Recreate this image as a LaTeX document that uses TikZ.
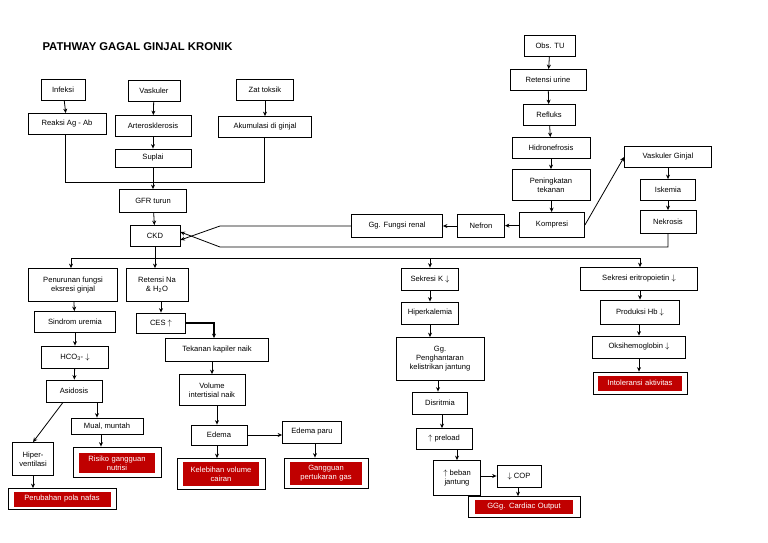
\documentclass[tikz,border=0pt]{standalone}
\usepackage{fontspec}
\setmainfont{Liberation Sans}
\usetikzlibrary{arrows.meta}
\definecolor{dred}{RGB}{192,0,0}
\begin{document}
\begin{tikzpicture}[x=1pt,y=-1pt,
  box/.style={draw,thick,fill=white,inner sep=1pt,align=center,font=\fontsize{7.6}{9}\selectfont,minimum height=21pt},
  outer/.style={draw,thick,inner sep=0pt},
  redt/.style={fill=dred,text=white,inner sep=1pt,align=center,font=\fontsize{7.6}{9}\selectfont},
  arr/.style={-{Stealth[length=4.5pt,width=4pt]},thick},
  ln/.style={thick}]
\useasboundingbox (0,0) rectangle (768,543);
\node[font=\bfseries\fontsize{11.3}{13}\selectfont,anchor=west] (title) at (39,47) {PATHWAY GAGAL GINJAL KRONIK};
% top left
\node[box,minimum width=44pt] (inf) at (63,90) {Infeksi};
\node[box,minimum width=78pt] (reak) at (67,124) {Reaksi Ag - Ab};
\node[box,minimum width=52pt] (vask) at (154,91) {Vaskuler};
\node[box,minimum width=76pt] (arte) at (153,126) {Arterosklerosis};
\node[box,minimum width=76pt,minimum height=18pt] (supl) at (153,158) {Suplai};
\node[box,minimum width=57pt] (zat) at (265,90) {Zat toksik};
\node[box,minimum width=93pt] (akum) at (265,127) {Akumulasi di ginjal};
\node[box,minimum width=67pt,minimum height=23pt] (gfr) at (153,201) {GFR turun};
\node[box,minimum width=50pt] (ckd) at (155,236) {CKD};
\coordinate (j1) at (65,182); \coordinate (j2) at (264,182); \coordinate (j3) at (153,182);
\draw[arr] (inf) -- (reak);
\draw[arr] (vask) -- (arte);
\draw[arr] (arte) -- (supl);
\draw[arr] (zat) -- (akum);
\draw[ln] (reak.south -| j1) -- (j1) -- (j2) -- (akum.south -| j2);
\draw[arr] (supl) -- (gfr);
\draw[arr] (gfr) -- (ckd);
% top right
\node[box,minimum width=51pt] (obs) at (550,46) {Obs. TU};
\node[box,minimum width=76pt] (retu) at (548,80) {Retensi urine};
\node[box,minimum width=52pt] (refl) at (549,115) {Refluks};
\node[box,minimum width=78pt] (hidr) at (551,148) {Hidronefrosis};
\node[box,minimum width=78pt,minimum height=31pt] (peni) at (551,185) {Peningkatan\\tekanan};
\node[box,minimum width=65pt,minimum height=25pt] (komp) at (552,225) {Kompresi};
\node[box,minimum width=47pt,minimum height=23pt] (nef) at (481,226) {Nefron};
\node[box,minimum width=91pt,minimum height=23pt] (ggf) at (397,226) {Gg. Fungsi renal};
\node[box,minimum width=87pt] (vg) at (668,157) {Vaskuler Ginjal};
\node[box,minimum width=55pt] (isk) at (668,190) {Iskemia};
\node[box,minimum width=56pt,minimum height=23pt] (nek) at (668,222) {Nekrosis};
\draw[arr] (obs) -- (retu);
\draw[arr] (retu) -- (refl);
\draw[arr] (refl) -- (hidr);
\draw[arr] (hidr) -- (peni);
\draw[arr] (peni) -- (komp);
\draw[arr] (komp) -- (nef);
\draw[arr] (nef) -- (ggf);
\draw[arr] (komp.east) -- (vg.west);
\draw[arr] (vg) -- (isk);
\draw[arr] (isk) -- (nek);
\coordinate (k1) at (220,226); \coordinate (k2) at (220,247); \coordinate (k3) at (668,247);
\draw[arr] (ggf.west) -- (k1) -- ([yshift=-4pt]ckd.east);
\draw[arr] (nek.south) -- (k3) -- (k2) -- ([yshift=4pt]ckd.east);
% bus
\coordinate (b0) at (155,258); \coordinate (bl) at (71,258); \coordinate (bk) at (430,258); \coordinate (be) at (640,258);
\node[box,minimum width=89pt,minimum height=33pt] (pen) at (73,285) {Penurunan fungsi\\eksresi ginjal};
\node[box,minimum width=62pt,minimum height=33pt] (rna) at (157,285) {Retensi Na\\\& H\textsubscript{2}O};
\node[box,minimum width=57pt,minimum height=22pt] (sk) at (430,279) {Sekresi K $\downarrow$};
\node[box,minimum width=117pt,minimum height=23pt] (se) at (639,279) {Sekresi eritropoietin $\downarrow$};
\draw[ln] (ckd.south) -- (b0);
\draw[ln] (bl) -- (be);
\draw[arr] (bl) -- (pen.north -| bl);
\draw[arr] (b0) -- (rna.north -| b0);
\draw[arr] (bk) -- (sk);
\draw[arr] (be) -- (se.north -| be);
% left column
\node[box,minimum width=81pt] (sin) at (75,322) {Sindrom uremia};
\node[box,minimum width=67pt,minimum height=22pt] (hco) at (75,357) {HCO\textsubscript{3}- $\downarrow$};
\node[box,minimum width=56pt,minimum height=22pt] (asi) at (74,391) {Asidosis};
\node[box,minimum width=72pt,minimum height=16pt] (mual) at (107,426) {Mual, muntah};
\node[box,minimum width=41pt,minimum height=33pt] (hip) at (33,459) {Hiper-\\ventilasi};
\node[outer,minimum width=88pt,minimum height=30pt] (risO) at (117,462) {};
\node[redt,text width=74pt,minimum height=20pt] (ris) at (117,463) {Risiko gangguan\\nutrisi};
\node[outer,minimum width=108pt,minimum height=21pt] (perO) at (62,499) {};
\node[redt,text width=95pt,minimum height=15pt] (per) at (62,499) {Perubahan pola nafas};
\draw[arr] (pen) -- (sin);
\draw[arr] (sin) -- (hco);
\draw[arr] (hco) -- (asi);
\draw[arr] ([xshift=23pt]asi.south) -- (mual.north -| 97,0);
\draw[arr] ([xshift=-11pt]asi.south) -- (hip.north);
\draw[arr] (mual.south -| 101,0) -- (risO.north -| 101,0);
\draw[arr] (hip) -- (perO.north -| hip);
% middle column
\node[box,minimum width=49pt,minimum height=20pt] (ces) at (161,323) {CES $\uparrow$};
\node[box,minimum width=103pt,minimum height=23pt] (tek) at (217,350) {Tekanan kapiler naik};
\node[box,minimum width=66pt,minimum height=31pt] (vol) at (212,390) {Volume\\intertisial naik};
\node[box,minimum width=56pt,minimum height=20pt] (ede) at (219,435) {Edema};
\node[box,minimum width=59pt,minimum height=22pt] (edp) at (312,432) {Edema paru};
\node[outer,minimum width=88pt,minimum height=31pt] (kelO) at (221,474) {};
\node[redt,text width=74pt,minimum height=24pt] (kel) at (221,474) {Kelebihan volume\\cairan};
\node[outer,minimum width=84pt,minimum height=30pt] (ganO) at (326,473) {};
\node[redt,text width=70pt,minimum height=23pt] (gan) at (326,473) {Gangguan\\pertukaran gas};
\draw[arr] (rna.south -| ces) -- (ces);
\coordinate (c1) at (214,323);
\draw[arr,very thick] (ces.east) -- (c1) -- (tek.north -| c1);
\draw[arr] (tek.south -| vol) -- (vol);
\draw[arr] (vol.south -| 217,0) -- (ede.north -| 217,0);
\draw[arr] (ede.east) -- (edp.west |- ede.east);
\draw[arr] (ede.south -| 217,0) -- (kelO.north -| 217,0);
\draw[arr] (edp.south -| 315,0) -- (ganO.north -| 315,0);
% K column
\node[box,minimum width=57pt,minimum height=22pt] (hk) at (430,313) {Hiperkalemia};
\node[box,minimum width=88pt,minimum height=43pt] (gg) at (440,359) {Gg.\\Penghantaran\\kelistrikan jantung};
\node[box,minimum width=55pt,minimum height=22pt] (dis) at (440,403) {Disritmia};
\node[box,minimum width=56pt] (pre) at (444,439) {$\uparrow$ preload};
\node[box,minimum width=47pt,minimum height=35pt] (beb) at (457,478) {$\uparrow$ beban\\jantung};
\node[box,minimum width=44pt,minimum height=22pt] (cop) at (519,476) {$\downarrow$ COP};
\node[outer,minimum width=112pt,minimum height=21pt] (ccO) at (524,507) {};
\node[redt,text width=96pt,minimum height=14pt] (cc) at (524,507) {GGg. Cardiac Output};
\draw[arr] (sk) -- (hk);
\draw[arr] (hk) -- (hk |- gg.north);
\draw[arr] (gg.south -| 438,0) -- (dis.north -| 438,0);
\draw[arr] (dis.south -| 442,0) -- (pre.north -| 442,0);
\draw[arr] (pre.south -| 457,0) -- (beb.north);
\draw[arr] (beb.east |- cop) -- (cop.west);
\draw[arr] (cop.south -| 518,0) -- (ccO.north -| 518,0);
% eritropoietin column
\node[box,minimum width=79pt,minimum height=24pt] (hb) at (640,312) {Produksi Hb $\downarrow$};
\node[box,minimum width=93pt,minimum height=22pt] (oks) at (639,347) {Oksihemoglobin $\downarrow$};
\node[outer,minimum width=94pt,minimum height=22pt] (intO) at (640,383) {};
\node[redt,text width=82pt,minimum height=15pt] (int) at (640,383) {Intoleransi aktivitas};
\draw[arr] (se.south -| 640,0) -- (hb);
\draw[arr] (hb.south -| 639,0) -- (oks);
\draw[arr] (oks) -- (intO.north -| oks);
\end{tikzpicture}
\end{document}
